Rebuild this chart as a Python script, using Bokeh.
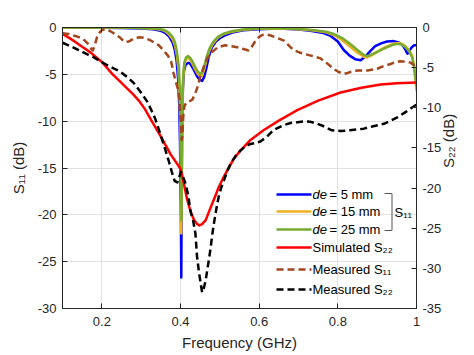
import math
from bokeh.plotting import figure
from bokeh.models import Range1d, LinearAxis, FixedTicker, CustomJSTickFormatter, Label
from bokeh.embed import file_html
from bokeh.resources import INLINE

# ---------------- data ----------------
f_de5 = [0.10, 0.20, 0.25, 0.30, 0.33, 0.35, 0.36, 0.37, 0.38, 0.385, 0.390, 0.394, 0.397, 0.399,
         0.401, 0.402, 0.403, 0.404, 0.406, 0.409, 0.413, 0.418, 0.423, 0.428, 0.435, 0.442, 0.449,
         0.455, 0.460, 0.466, 0.472, 0.480, 0.490, 0.500, 0.515, 0.535, 0.56, 0.60, 0.65, 0.70,
         0.73, 0.76, 0.78, 0.80, 0.815, 0.83, 0.845, 0.858, 0.870, 0.883, 0.895, 0.910, 0.925,
         0.942, 0.955, 0.965, 0.972, 0.977, 0.982, 0.988, 0.994, 1.000]
s11_de5 = [0.00, -0.02, -0.05, -0.10, -0.20, -0.35, -0.55, -0.90, -1.6, -2.3, -3.5, -5.5, -8.5, -13,
           -20, -26.7, -18, -11, -6.5, -4.6, -4.0, -3.8, -3.8, -4.1, -4.6, -5.2, -5.6,
           -5.7, -5.3, -4.3, -3.1, -2.1, -1.5, -1.15, -0.8, -0.5, -0.3, -0.18, -0.12, -0.22,
           -0.35, -0.55, -0.85, -1.5, -2.4, -3.0, -3.4, -3.5, -3.1, -2.5, -2.0, -1.7, -1.5,
           -1.45, -1.6, -1.9, -2.4, -2.8, -2.5, -2.1, -1.9, -1.9]

f_de15 = [0.10, 0.25, 0.30, 0.33, 0.35, 0.36, 0.37, 0.38, 0.386, 0.391, 0.395, 0.398, 0.400, 0.4015,
          0.402, 0.403, 0.405, 0.407, 0.410, 0.414, 0.419, 0.424, 0.430, 0.437, 0.444, 0.450, 0.455,
          0.460, 0.466, 0.473, 0.482, 0.495, 0.510, 0.530, 0.560, 0.60, 0.65, 0.70, 0.74, 0.77,
          0.79, 0.81, 0.83, 0.85, 0.865, 0.872, 0.885, 0.90, 0.92, 0.94, 0.952, 0.962, 0.972,
          0.982, 0.989, 0.994, 0.997, 1.000]
s11_de15 = [0.00, 0.00, -0.06, -0.13, -0.22, -0.38, -0.7, -1.25, -1.9, -3.0, -4.6, -7.3, -11, -17,
            -22.0, -16, -8.5, -5.3, -3.9, -3.4, -3.25, -3.4, -3.85, -4.45, -4.95, -5.2, -5.1,
            -4.5, -3.5, -2.5, -1.75, -1.1, -0.7, -0.45, -0.25, -0.14, -0.1, -0.18, -0.32, -0.52,
            -0.8, -1.3, -2.0, -2.7, -3.1, -3.2, -3.0, -2.6, -2.1, -1.75, -1.65, -1.7, -2.0,
            -2.5, -3.0, -4.2, -5.5, -6.8]

f_de25 = [0.10, 0.25, 0.30, 0.33, 0.35, 0.36, 0.37, 0.38, 0.386, 0.391, 0.395, 0.398, 0.400, 0.4015,
          0.4025, 0.4035, 0.405, 0.407, 0.410, 0.414, 0.419, 0.424, 0.430, 0.437, 0.444, 0.450,
          0.455, 0.460, 0.466, 0.473, 0.482, 0.495, 0.510, 0.530, 0.560, 0.60, 0.65, 0.70, 0.74,
          0.77, 0.79, 0.81, 0.83, 0.85, 0.865, 0.875, 0.885, 0.90, 0.92, 0.94, 0.952, 0.962,
          0.972, 0.982, 0.989, 0.994, 0.997, 1.000]
s11_de25 = [0.00, 0.00, -0.05, -0.10, -0.18, -0.3, -0.55, -1.0, -1.6, -2.6, -4.0, -6.5, -10, -15,
            -20.6, -14, -8, -5, -3.7, -3.2, -3.05, -3.2, -3.6, -4.2, -4.7, -4.95,
            -4.8, -4.2, -3.2, -2.3, -1.6, -1.0, -0.65, -0.4, -0.22, -0.12, -0.08, -0.15, -0.28,
            -0.45, -0.7, -1.1, -1.7, -2.4, -2.9, -3.05, -2.9, -2.6, -2.2, -1.85, -1.75, -1.8,
            -2.1, -2.6, -3.2, -4.2, -5.3, -6.3]

f_sim22 = [0.100, 0.130, 0.150, 0.171, 0.200, 0.227, 0.250, 0.281, 0.294, 0.310, 0.324, 0.349,
           0.375, 0.400, 0.405, 0.410, 0.415, 0.420, 0.427, 0.434, 0.441, 0.448, 0.455,
           0.464, 0.472, 0.481, 0.490, 0.497, 0.508, 0.519, 0.535, 0.553, 0.578, 0.611, 0.650,
           0.697, 0.750, 0.807, 0.860, 0.909, 0.950, 1.000]
s22_sim = [-0.8, -1.7, -2.4, -3.1, -4.3, -5.8, -6.9, -8.4, -9.1, -10.2, -11.4, -13.5,
           -15.8, -17.6, -18.6, -19.8, -21.0, -22.0, -23.1, -23.9, -24.4, -24.65, -24.5,
           -24.0, -23.0, -21.9, -20.8, -19.9, -18.8, -17.8, -16.4, -15.3, -14.0, -12.8, -11.6,
           -10.3, -9.1, -8.1, -7.5, -7.1, -6.95, -6.85]

f_meas11 = [0.100, 0.115, 0.128, 0.140, 0.153, 0.164, 0.172, 0.177, 0.182, 0.188, 0.195, 0.201,
            0.210, 0.222, 0.235, 0.247, 0.258, 0.268, 0.281, 0.295, 0.306, 0.320, 0.331, 0.345,
            0.357, 0.368, 0.376, 0.382, 0.388, 0.393, 0.397, 0.400, 0.403, 0.405, 0.407, 0.410,
            0.415, 0.422, 0.430, 0.437, 0.443, 0.450, 0.459, 0.468, 0.481, 0.495, 0.514, 0.530,
            0.544, 0.560, 0.573, 0.582, 0.591, 0.600, 0.608, 0.618, 0.629, 0.645, 0.663, 0.675,
            0.687, 0.705, 0.722, 0.740, 0.756, 0.772, 0.789, 0.802, 0.815, 0.825, 0.832, 0.850,
            0.875, 0.900, 0.918, 0.934, 0.946, 0.959, 0.972, 0.985, 0.993, 1.000]
s11_meas = [-0.6, -0.7, -0.85, -1.0, -1.25, -1.7, -2.2, -2.45, -1.9, -1.0, -0.5, -0.25,
            -0.2, -0.4, -0.75, -1.1, -1.55, -1.5, -1.2, -1.05, -1.1, -1.3, -1.55, -1.9,
            -2.45, -3.0, -3.6, -4.8, -5.8, -6.5, -7.5, -9.5, -12.0, -11.5, -9.5, -8.4,
            -8.0, -7.9, -7.7, -7.1, -6.4, -5.3, -4.2, -3.3, -2.6, -2.1, -1.9, -2.0,
            -2.1, -2.3, -2.45, -2.0, -1.4, -1.0, -0.8, -0.75, -0.85, -1.1, -1.4, -1.9,
            -2.4, -2.7, -2.9, -3.1, -3.3, -3.8, -4.4, -4.75, -4.95, -4.85, -4.75, -4.6,
            -4.6, -4.4, -4.1, -3.9, -3.7, -3.6, -3.65, -3.75, -4.0, -4.4]

f_meas22 = [0.100, 0.114, 0.128, 0.140, 0.153, 0.166, 0.179, 0.196, 0.214, 0.230, 0.247, 0.265,
            0.281, 0.298, 0.315, 0.326, 0.336, 0.349, 0.360, 0.370, 0.378, 0.385, 0.392, 0.397,
            0.401, 0.406, 0.413, 0.420, 0.425, 0.432, 0.438, 0.442, 0.447, 0.451, 0.455, 0.459,
            0.464, 0.468, 0.472, 0.477, 0.481, 0.485, 0.489, 0.493, 0.497, 0.503, 0.510, 0.518,
            0.527, 0.540, 0.553, 0.565, 0.578, 0.590, 0.603, 0.620, 0.636, 0.660, 0.680, 0.697,
            0.715, 0.731, 0.748, 0.764, 0.785, 0.807, 0.830, 0.850, 0.866, 0.890, 0.917, 0.935,
            0.951, 0.970, 0.985, 1.000]
s22_meas = [-1.9, -2.2, -2.5, -2.8, -3.1, -3.4, -3.7, -4.2, -4.7, -5.1, -5.5, -6.2,
            -6.9, -8.0, -9.2, -10.3, -11.4, -13.3, -15.0, -16.6, -18.0, -19.1, -19.3, -18.6,
            -18.0, -18.5, -19.5, -21.0, -22.8, -24.0, -25.7, -28.5, -30.5, -31.8, -33.0, -32.5,
            -31.5, -30.2, -29.0, -27.3, -25.7, -24.4, -23.2, -22.1, -21.1, -20.0, -19.1, -18.0,
            -17.0, -16.0, -15.3, -14.8, -14.5, -14.4, -14.2, -13.6, -12.8, -12.2, -11.9, -11.8,
            -11.7, -11.75, -12.0, -12.3, -12.8, -12.9, -12.8, -12.7, -12.6, -12.3, -12.0, -11.6,
            -11.2, -10.6, -10.1, -9.6]

x_ticks = [0.2, 0.4, 0.6, 0.8, 1.0]
left_ticks = [0, -5, -10, -15, -20, -25, -30]
right_ticks = [0, -5, -10, -15, -20, -25, -30, -35]

legend_labels = ["= 5 mm", "= 15 mm", "= 25 mm", "Simulated S\u2082\u2082",
                 "Measured S\u2081\u2081", "Measured S\u2082\u2082"]

# ---------------- layout ----------------
W, H = 474, 355
FL, FR, FT, FB = 62, 416, 27, 308
XMIN, XMAX = 0.1, 1.0
YMIN, YMAX = -30, 0
FONT = "Liberation Sans"
INK = "#262626"

def dx(px):
    return XMIN + (px - FL) / (FR - FL) * (XMAX - XMIN)

def dy(py):
    return YMAX - (py - FT) / (FB - FT) * (YMAX - YMIN)

p = figure(width=W, height=H, x_range=Range1d(XMIN, XMAX), y_range=Range1d(YMIN, YMAX),
           output_backend="svg", toolbar_location=None,
           min_border_left=FL, min_border_right=W - FR, min_border_top=FT,
           min_border_bottom=H - FB)
p.extra_y_ranges = {"s22": Range1d(-35, 0)}
p.outline_line_color = INK
p.outline_line_width = 1
p.background_fill_color = "white"
p.border_fill_color = "white"

fmt = CustomJSTickFormatter(code="return tick.toString();")

def style_axis(ax, size="13px"):
    ax.axis_line_color = INK
    ax.major_tick_line_color = INK
    ax.major_tick_in = 5
    ax.major_tick_out = 0
    ax.minor_tick_line_color = None
    ax.major_label_text_font = FONT
    ax.major_label_text_font_size = size
    ax.major_label_text_color = INK
    ax.axis_label_text_font = FONT
    ax.axis_label_text_font_size = "15px"
    ax.axis_label_text_font_style = "normal"
    ax.axis_label_text_color = INK
    ax.formatter = fmt

xa = p.xaxis[0]
xa.ticker = FixedTicker(ticks=x_ticks)
style_axis(xa)
xa.axis_label = "Frequency (GHz)"
xa.major_label_standoff = 8
xa.axis_label_standoff = 5

ya = p.yaxis[0]
ya.ticker = FixedTicker(ticks=left_ticks)
style_axis(ya)
ya.axis_label = "S\u2081\u2081 (dB)"
ya.major_label_standoff = 6
ya.axis_label_standoff = 8

ra = LinearAxis(y_range_name="s22", ticker=FixedTicker(ticks=right_ticks))
style_axis(ra)
ra.major_label_standoff = 6
ra.axis_label_standoff = 4
right_title = "S\u2082\u2082 (dB)"
if "axis_label_orientation" in ra.properties():
    ra.axis_label = right_title
    ra.axis_label_orientation = math.pi / 2
else:
    p.add_layout(Label(x=dx(462), y=dy(188), text=right_title, angle=math.pi / 2,
                       text_font=FONT, text_font_size="15px", text_color=INK,
                       text_align="center", text_baseline="middle"))
p.add_layout(ra, "right")

ta = LinearAxis(ticker=FixedTicker(ticks=x_ticks),
                formatter=CustomJSTickFormatter(code="return '';"))
ta.axis_line_color = INK
ta.major_tick_line_color = INK
ta.major_tick_in = 5
ta.major_tick_out = 0
ta.minor_tick_line_color = None
ta.major_label_text_font_size = "1px"
p.add_layout(ta, "above")

p.xgrid.ticker = FixedTicker(ticks=x_ticks)
p.ygrid.ticker = FixedTicker(ticks=left_ticks)
for g in (p.xgrid[0], p.ygrid[0]):
    g.grid_line_color = "#e2e2e2"
    g.grid_line_width = 1

# ---------------- curves ----------------
C_BLUE, C_ORANGE, C_GREEN = "#0000ff", "#edb120", "#77ac30"
C_RED, C_BROWN, C_BLACK = "#ff0000", "#a2461c", "#000000"
LW = 2.5
DASH = "7 4"

p.line(f_de5, s11_de5, line_color=C_BLUE, line_width=LW, line_join="round")
p.line(f_de15, s11_de15, line_color=C_ORANGE, line_width=LW, line_join="round")
p.line(f_de25, s11_de25, line_color=C_GREEN, line_width=LW, line_join="round")
p.line(f_sim22, s22_sim, y_range_name="s22", line_color=C_RED, line_width=LW, line_join="round")
p.line(f_meas11, s11_meas, line_color=C_BROWN, line_width=LW, line_dash=DASH, line_join="round")
p.line(f_meas22, s22_meas, y_range_name="s22", line_color=C_BLACK, line_width=LW,
       line_dash=DASH, line_join="round")

# ---------------- legend (drawn by hand, transparent, no box) ----------------
rows = [194, 211, 229, 247, 269, 289]
colors = [C_BLUE, C_ORANGE, C_GREEN, C_RED, C_BROWN, C_BLACK]
dashes = ["solid", "solid", "solid", "solid", DASH, DASH]
for i, py in enumerate(rows):
    p.segment(x0=[dx(276)], y0=[dy(py)], x1=[dx(311)], y1=[dy(py)],
              line_color=colors[i], line_width=LW, line_dash=dashes[i])
    if i < 3:
        p.add_layout(Label(x=dx(312), y=dy(py), text="de", text_font=FONT,
                           text_font_style="italic", text_font_size="13px",
                           text_baseline="middle", text_color="black"))
        p.add_layout(Label(x=dx(329), y=dy(py), text=legend_labels[i], text_font=FONT,
                           text_font_size="13px", text_baseline="middle", text_color="black"))
    else:
        p.add_layout(Label(x=dx(312), y=dy(py), text=legend_labels[i], text_font=FONT,
                           text_font_size="13px", text_baseline="middle", text_color="black"))

# bracket grouping the three S11 simulations
p.segment(x0=[dx(384), dx(391.5), dx(384)], y0=[dy(193), dy(193), dy(230)],
          x1=[dx(391.5), dx(391.5), dx(391.5)], y1=[dy(193), dy(230), dy(230)],
          line_color="#555555", line_width=1)
p.add_layout(Label(x=dx(394), y=dy(212), text="S\u2081\u2081", text_font=FONT,
                   text_font_size="13px", text_baseline="middle", text_color="black"))

open("out.html", "w").write(file_html(p, INLINE))
